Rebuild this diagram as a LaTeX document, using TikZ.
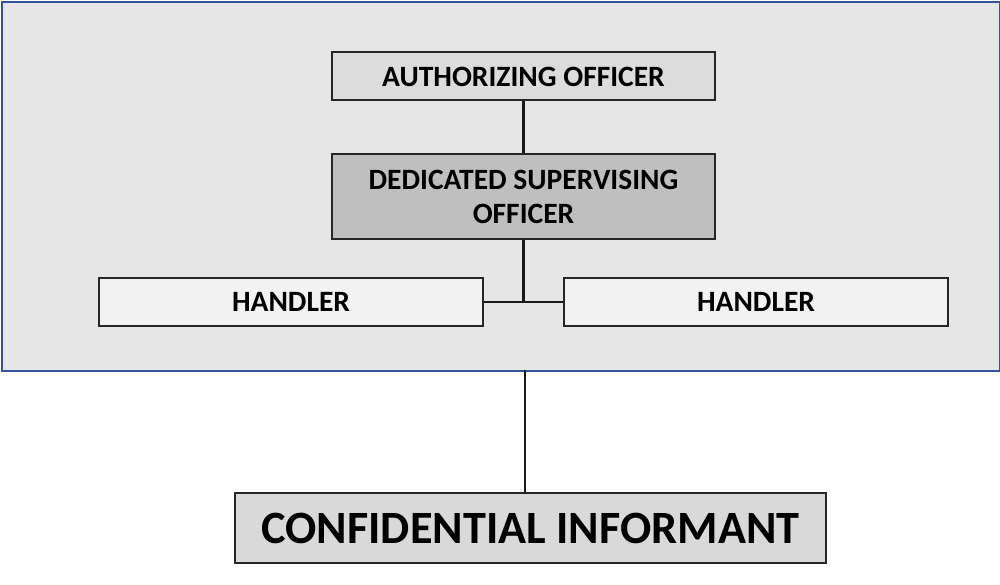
\documentclass[tikz,border=0pt]{standalone}
\usepackage{fontspec}
\setmainfont{Carlito}
\begin{document}
\begin{tikzpicture}[x=1pt,y=-1pt,
  box/.style={draw=black!85,line width=2pt,inner sep=0pt,align=center,font=\fontsize{29.5}{34}\selectfont\bfseries},
  conn/.style={draw=black!90,line width=2.2pt}]
\useasboundingbox (0,0) rectangle (1000,585);
\fill[white] (0,0) rectangle (1000,585);
\node[draw={rgb,255:red,47;green,85;blue,151},fill={rgb,255:red,230;green,230;blue,230},line width=1.6pt,minimum width=998pt,minimum height=369pt,inner sep=0pt,anchor=north west] (frame) at (1,1) {};
\node[box,fill={rgb,255:red,220;green,220;blue,220},minimum width=383pt,minimum height=48pt] (ao) at (523.5,76.5) {AUTHORIZING OFFICER};
\node[box,fill={rgb,255:red,191;green,191;blue,191},minimum width=383pt,minimum height=84pt] (dso) at (523.5,196.5) {DEDICATED SUPERVISING\\OFFICER};
\node[box,fill={rgb,255:red,242;green,242;blue,242},minimum width=384pt,minimum height=48pt] (h1) at (291,302) {HANDLER};
\node[box,fill={rgb,255:red,242;green,242;blue,242},minimum width=384pt,minimum height=48pt] (h2) at (756,302) {HANDLER};
\node[box,fill={rgb,255:red,217;green,217;blue,217},minimum width=591pt,minimum height=70pt,font=\fontsize{46.3}{50}\selectfont\bfseries] (ci) at (530.5,528) {CONFIDENTIAL INFORMANT};
\coordinate (j) at (523.5,302);
\coordinate (fb) at (525,370);
\draw[conn] (ao.south) -- (dso.north);
\draw[conn] (dso.south) -- (j);
\draw[conn] (h1.east) -- (h2.west);
\draw[conn] (fb) -- (fb |- ci.north);
\end{tikzpicture}
\end{document}
